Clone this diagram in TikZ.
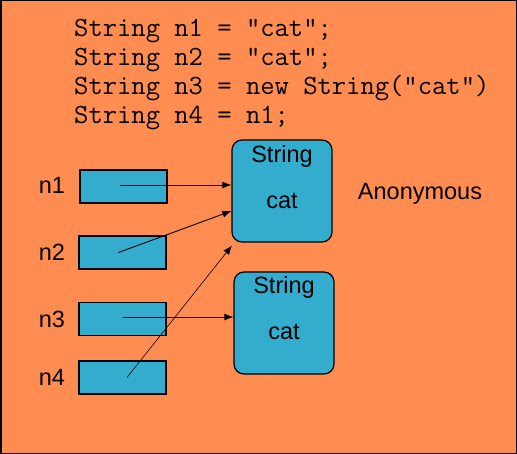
\documentclass[tikz,border=0pt]{standalone}
\usepackage{fontspec}
\setmainfont{Liberation Sans}
\usetikzlibrary{arrows.meta,positioning}

\definecolor{bgorange}{RGB}{255,140,80}
\definecolor{boxblue}{RGB}{51,172,206}

\tikzset{
  varbox/.style={draw, fill=boxblue, line width=1.2pt, minimum width=87pt, minimum height=33pt, inner sep=0pt},
  objbox/.style={draw, fill=boxblue, line width=1.2pt, rounded corners=10pt, minimum width=100pt, minimum height=102pt, inner sep=0pt},
  txt/.style={font=\fontsize{23.5}{28}\selectfont, inner sep=0pt},
  ref/.style={-{Latex[length=9pt,width=7pt]}, line width=0.9pt}
}

\begin{document}
\begin{tikzpicture}[x=1pt,y=-1pt]
    % background with frame
    \draw[fill=bgorange, line width=1.5pt] (0.75,0.75) rectangle (516.25,453.25);
    \useasboundingbox (0,0) rectangle (517,454);

    % the code
    \node[anchor=north west, align=left, inner sep=0pt,
          font=\ttfamily\fontsize{27.8}{29.3}\selectfont] (code) at (74,18.5)
         {String n1 = "cat";\\
          String n2 = "cat";\\
          String n3 = new String("cat")\\
          String n4 = n1;};

    % reference variables
    \node[varbox] (v1) at (123.5,186.5) {};
    \node[varbox] (v2) at (122.5,252.5) {};
    \node[varbox] (v3) at (122.5,319) {};
    \node[varbox] (v4) at (122.5,377.5) {};
    \node[txt] (l1) at (52,185) {n1};
    \node[txt] (l2) at (52,252) {n2};
    \node[txt] (l3) at (52,319) {n3};
    \node[txt] (l4) at (52,377) {n4};

    % string objects
    \node[objbox] (s1) at (282,191) {};
    \node[txt] (s1type) at ([yshift=-17pt]s1.north) {String};
    \node[txt] (s1val) at ([yshift=-10pt]s1.center) {cat};
    \node[objbox] (s2) at (284,323) {};
    \node[txt] (s2type) at ([yshift=-16pt]s2.north) {String};
    \node[txt] (s2val) at ([yshift=-9pt]s2.center) {cat};
    \node[txt] (anon) at (420,194) {Anonymous};

    % references
    \draw[ref] ([xshift=-4pt,yshift=1.5pt]v1.center) -- ([yshift=6pt]s1.west);
    \draw[ref] ([xshift=-4pt]v2.center) -- ([yshift=-20pt]s1.west);
    \draw[ref] ([yshift=2pt]v3.center) -- ([yshift=6pt]s2.west);
    \draw[ref, line width=0.6pt] ([xshift=4.5pt]v4.center) -- ([xshift=0.5pt,yshift=-3pt]s1.south west);
\end{tikzpicture}
\end{document}
